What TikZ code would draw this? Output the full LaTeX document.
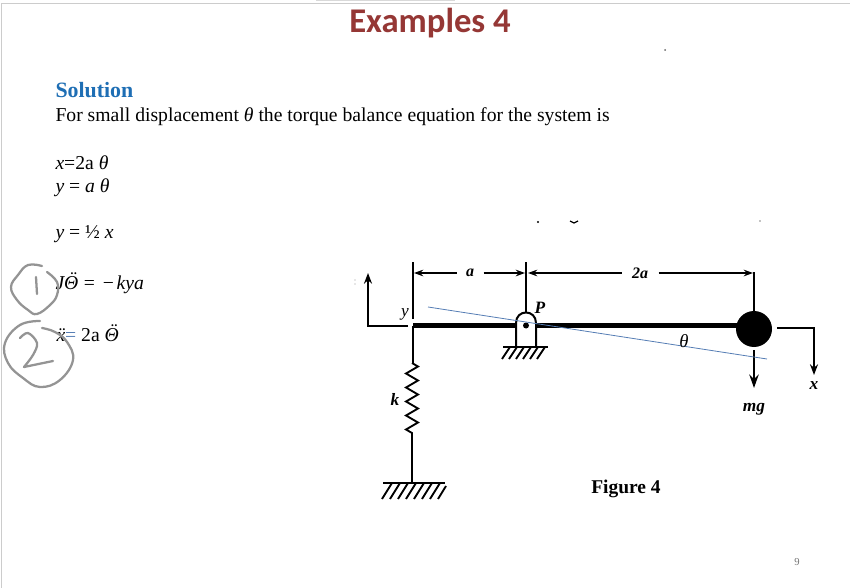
\documentclass[tikz,border=0pt]{standalone}
\usepackage{fontspec}
\setmainfont{Liberation Serif}
\newfontfamily\titlefont{Carlito}
\usetikzlibrary{arrows.meta,decorations.pathmorphing}

\definecolor{titlered}{RGB}{149,55,53}
\definecolor{headblue}{RGB}{30,110,180}
\definecolor{thetablue}{RGB}{85,125,180}
\definecolor{penGray}{RGB}{148,148,148}
\newcommand{\ddotover}[1]{{\accent"00A8 #1}}

\tikzset{
  every picture/.style={line width=0.75pt},
  txt/.style={anchor=west,inner sep=0.75pt,font=\fontsize{14.75}{17}\selectfont},
  lbl/.style={inner sep=0.75pt,font=\fontsize{13}{15}\selectfont\bfseries\itshape},
  mech/.style={line width=1.4pt},
  dim/.style={line width=1.1pt,-{Stealth[length=7pt,width=5pt]}},
  pen/.style={line width=1.7pt,penGray,line cap=round,line join=round},
}

\begin{document}
\begin{tikzpicture}[x=0.75pt,y=0.75pt,yscale=-1,xscale=1]
\useasboundingbox (0,0) rectangle (850,588);

%Slide edge
\draw [line width=0.75pt,black!20] (1,588) -- (1,3.5) -- (850,3.5) ;
\fill [black!15] (316,0) rectangle (455,1) ;

% Text Node
\node [inner sep=0.75pt,text=titlered,font=\fontsize{26}{30}\selectfont\titlefont\bfseries] (title) at (430,23) {Examples 4};
\node [txt,text=headblue,font=\fontsize{16.4}{18}\selectfont\bfseries] (solution) at (54,90) {Solution};
\node [txt] (intro) at (54,117) {For small displacement \itshape θ \upshape the torque balance equation for the system is};
\node [txt] (eqa) at (54,163) {\itshape x\upshape=2a \itshape θ};
\node [txt] (eqb) at (54,188) {\itshape y \upshape= \itshape a θ};
\node [txt] (eqc) at (54,234) {\itshape y \upshape= ½ \itshape x};
\node [txt] (eqd) at (54,283) {\itshape J\ddotover{Θ}\kern4pt\upshape=\kern6pt−\kern2pt\itshape kya};
\node [txt] (eqe) at (55,333.5) {\itshape\ddotover{x}\upshape\textcolor{thetablue}{=} 2a \itshape\ddotover{Θ}};
\node [inner sep=0.75pt,font=\fontsize{14.6}{17}\selectfont\bfseries] (figcap) at (626,489) {Figure 4};
\node [inner sep=0.75pt,text=black!55,font=\fontsize{8}{10}\selectfont] (pagenum) at (797,562) {9};

%Main points
\coordinate (beamL) at (413,325.5);
\coordinate (beamR) at (738,325.5);
\coordinate (pivot) at (526,325.5);
\coordinate (ball) at (754,329);

%Dimension lines
\draw [mech] (413,262) -- (413,319) ;
\draw [mech] (526,262) -- (526,313) ;
\draw [mech] (754,272) -- (754,311) ;
\node [lbl,inner xsep=6.75pt,font=\fontsize{12}{14}\selectfont\bfseries\itshape] (dimA) at (470,273) {a};
\node [lbl,inner xsep=7.5pt,font=\fontsize{12}{14}\selectfont\bfseries\itshape] (dimB) at (640,273) {2a};
\draw [dim] (dimA) -- (414,273) ;
\draw [dim] (dimA) -- (525,273) ;
\draw [dim] (dimB) -- (528,273) ;
\draw [dim] (dimB) -- (753,273) ;

%Beam
\draw [line width=4.4pt] (beamL) -- (517,325.5) ;
\draw [line width=4.4pt] (535,325.5) -- (beamR) ;

%Pivot
\draw [line width=1.5pt,fill=white] (516,346) -- (516,323) .. controls (516,309) and (536,309) .. (536,323) -- (536,346) ;
\fill (pivot) circle [radius=3] ;
\draw [mech] (503,347) -- (548,347) ;
\draw [mech] (510,347) -- (502,359) (517,347) -- (509,359) (524,347) -- (516,359) (531,347) -- (523,359) (538,347) -- (530,359) (545,347) -- (537,359) ;

%Ball
\fill (ball) circle [radius=18] ;
\node [lbl] (lblMg) at (754,409) {mg};
\draw [line width=2pt,-{Stealth[length=10pt,width=7pt]}] (754,350) -- (754,388) ;

%Displacement arrows
\node [lbl,font=\fontsize{13}{15}\selectfont\itshape] (lblY) at (405,314) {y};
\draw [mech,-{Stealth[length=8pt,width=6pt]}] (408,326) -- (368,326) -- (368,273) ;
\node [lbl] (lblX) at (814,386) {x};
\draw [mech,-{Stealth[length=8pt,width=6pt]}] (777,328) -- (814,328) -- (814,375) ;

%Spring
\draw [mech] (beamL) -- (413,363) ;
\draw [mech,decorate,decoration={zigzag,segment length=10.5pt,amplitude=4.5pt}] (412,363) -- (412,438) ;
\draw [mech] (412,438) -- (412,483) ;
\node [lbl] (lblK) at (395,399) {k};

%Ground
\draw [mech] (383,483) -- (445,483) ;
\draw [mech] (392,483) -- (382,499) (400,483) -- (390,499) (408,483) -- (398,499) (416,483) -- (406,499) (424,483) -- (414,499) (432,483) -- (422,499) (440,483) -- (430,499) (446,486) -- (438,499) ;

%Tilted line
\draw [line width=0.6pt,thetablue] (428,307) -- (767,359) ;
\node [inner sep=0.75pt,font=\fontsize{14}{16}\selectfont\itshape] (lblTheta) at (684,341) {θ};
\node [lbl,font=\fontsize{13}{15}\selectfont\bfseries\itshape] (lblP) at (540,308) {P};

%Specks
\fill (538,222) circle [radius=1.2] ;
\draw [line width=1pt] (570,221) -- (574,223) -- (578,221) ;
\fill (760,221) circle [radius=0.7] ;
\fill [black!60] (665,50) circle [radius=1] ;
\fill [black!40] (355,280) circle [radius=0.6] (355,284) circle [radius=0.6] ;

%Curve Lines
\draw [pen] plot [smooth,tension=0.7] coordinates {(42,266) (28,265) (18,275) (11,287) (17,300) (28,310) (37,314) (50,305) (57,295) (57,282) (47,272)} ;
\draw [pen] (36,277) -- (37,294) ;
\draw [pen] plot [smooth,tension=0.7] coordinates {(40,321) (20,325) (5,343) (8,363) (23,378) (40,387) (60,380) (73,360) (67,342) (55,332) (42,328)} ;
\draw [pen] plot [smooth,tension=0.6] coordinates {(20,338) (28,333) (37,343) (33,355) (24,367)} ;
\draw [pen] (24,367) -- (53,361) ;

\end{tikzpicture}
\end{document}
